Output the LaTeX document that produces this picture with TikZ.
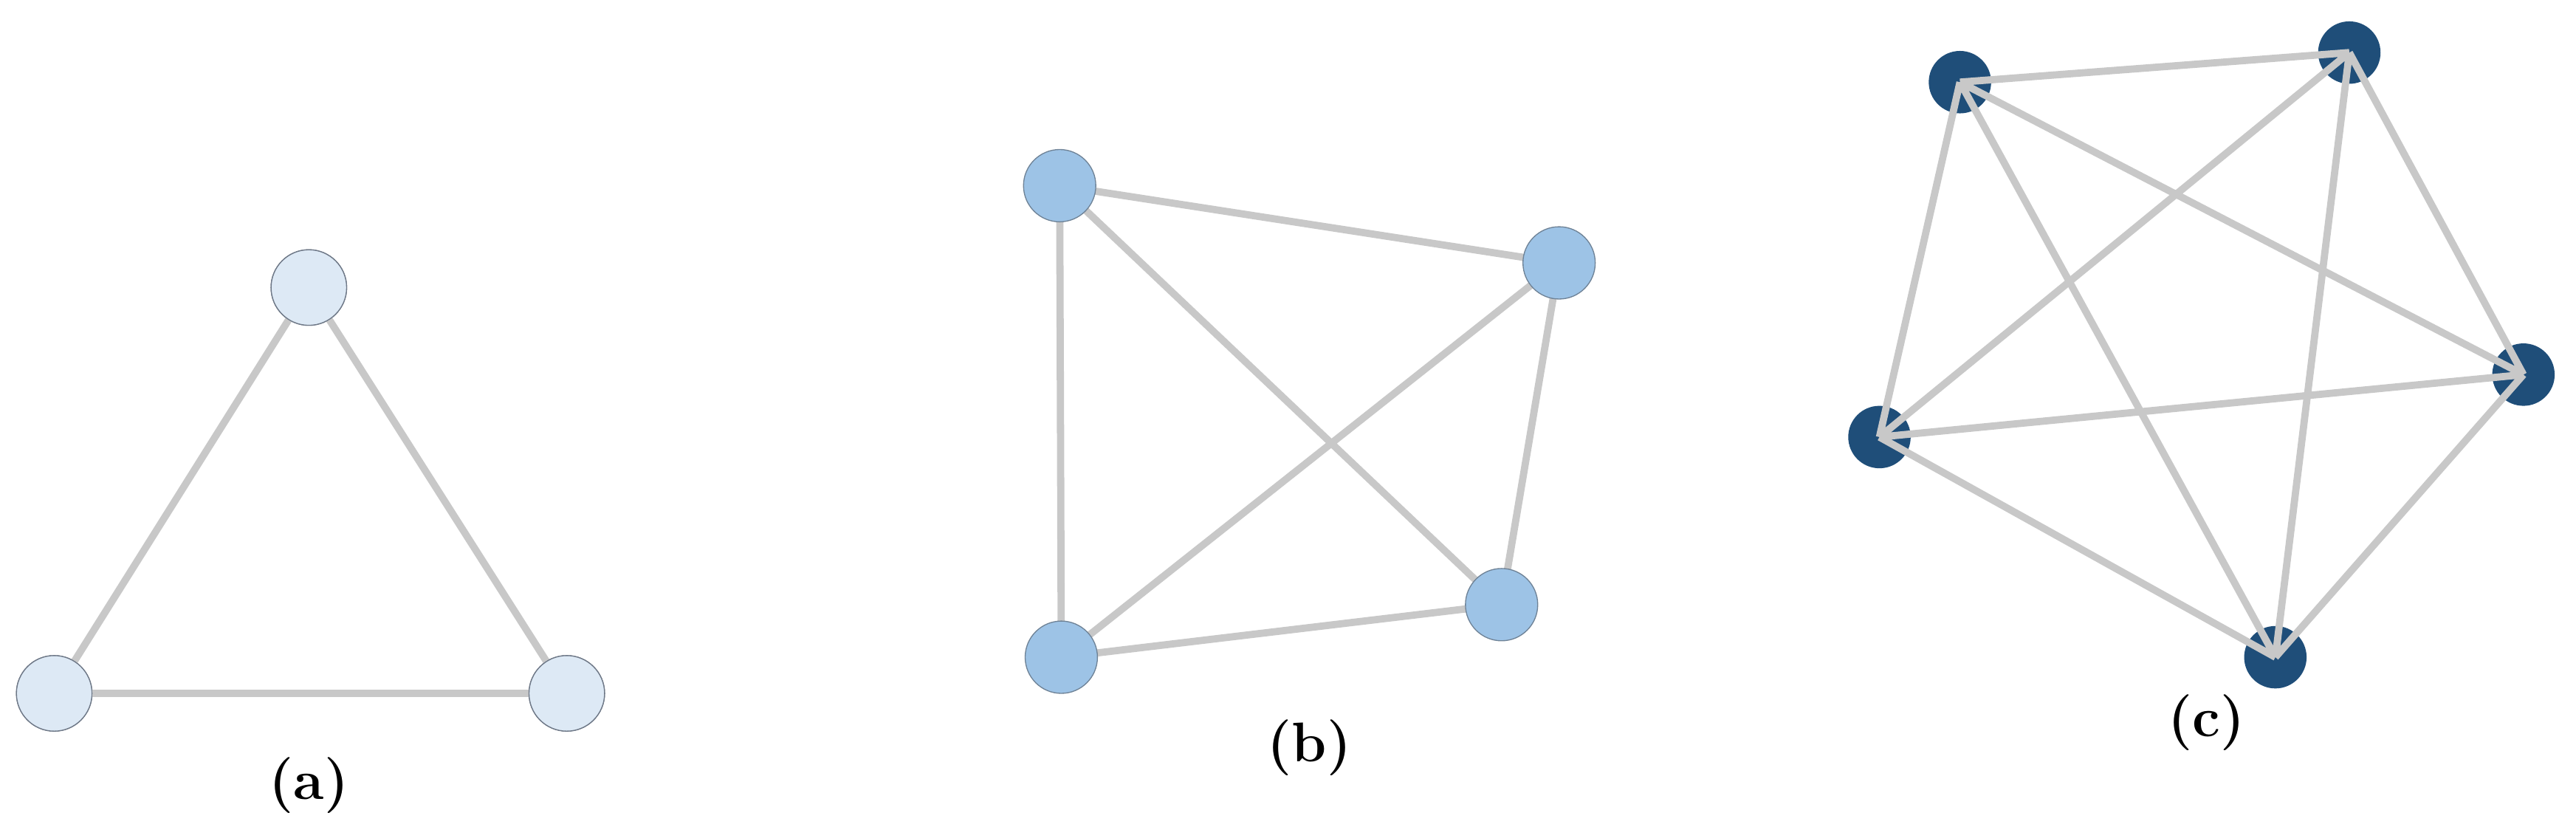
\documentclass[tikz,border=0pt]{standalone}
\begin{document}
\begin{tikzpicture}[x=0.5pt,y=-0.5pt,
  edge/.style={draw={rgb,255:red,200;green,200;blue,200},line width=2.2pt},
  na/.style={circle,minimum size=23pt,inner sep=0pt,fill={rgb,255:red,221;green,233;blue,245},draw={rgb,255:red,110;green,120;blue,135},line width=0.3pt},
  nb/.style={circle,minimum size=22pt,inner sep=0pt,fill={rgb,255:red,157;green,195;blue,230},draw={rgb,255:red,110;green,130;blue,150},line width=0.3pt},
  nc/.style={circle,minimum size=19pt,inner sep=0pt,fill={rgb,255:red,31;green,78;blue,121}},
  lab/.style={font=\fontsize{17}{20}\selectfont\bfseries}]
\useasboundingbox (0,0) rectangle (1568,503);
% (a)
\node[na] (a1) at (188,175) {};
\node[na] (a2) at (33,422) {};
\node[na] (a3) at (345,422) {};
\begin{scope}[on background layer/.try]
\end{scope}
\draw[edge] (a1)--(a2) (a1)--(a3) (a2)--(a3);
\node[na] at (a1) {};\node[na] at (a2) {};\node[na] at (a3) {};
\node[lab] (la) at (188,478) {(a)};
% (b)
\coordinate (b1) at (645,113);
\coordinate (b2) at (949,160);
\coordinate (b3) at (646,400);
\coordinate (b4) at (914,368);
\draw[edge] (b1)--(b2) (b1)--(b3) (b1)--(b4) (b2)--(b3) (b2)--(b4) (b3)--(b4);
\foreach \n in {b1,b2,b3,b4} \node[nb] at (\n) {};
\node[lab] (lb) at (797,455) {(b)};
% (c)
\coordinate (c1) at (1193,50);
\coordinate (c2) at (1430,32);
\coordinate (c3) at (1536,228);
\coordinate (c4) at (1144,266);
\coordinate (c5) at (1385,400);
\foreach \n in {c1,c2,c3,c4,c5} \node[nc] at (\n) {};
\draw[edge] (c1)--(c2) (c1)--(c3) (c1)--(c4) (c1)--(c5) (c2)--(c3) (c2)--(c4) (c2)--(c5) (c3)--(c4) (c3)--(c5) (c4)--(c5);
\node[lab] (lc) at (1343,440) {(c)};
\end{tikzpicture}
\end{document}
